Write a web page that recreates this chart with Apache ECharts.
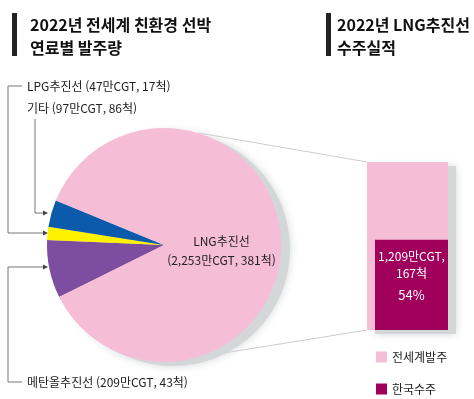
<!DOCTYPE html>
<html lang="ko">
<head>
<meta charset="UTF-8">
<script src="https://cdn.jsdelivr.net/npm/echarts@6/dist/echarts.min.js"></script>
<title>친환경 선박 발주량</title>
<style>
  html, body { margin: 0; padding: 0; background: #fff; }
  #chart { width: 474px; height: 399px; }
</style>
</head>
<body>
<div id="chart"></div>
<script>
// 연료별 발주량 (order = clockwise from the lower-left edge of the pie)
const fuelNames = ['메탄올추진선', 'LPG추진선', '기타', 'LNG추진선']
const fuelCGT = [209, 47, 97, 2253]      // 만CGT
const fuelShips = [43, 17, 86, 381]      // 척
const fuelColors = ['#7d4e9f', '#fff200', '#0b5aab', '#f6bdd6']

// LNG추진선 수주실적
const barNames = ['전세계발주', '한국수주']
const barCGT = [2253, 1209]              // 만CGT
const koreaShips = 167
const koreaShare = 54                    // %

const FONT = '"Noto Sans CJK KR", "Noto Sans", sans-serif'
const SHADOW = '#d3d7d7'
const fmt = v => v.toLocaleString('en-US')
const fuelLabel = i => fuelNames[i] + ' (' + fmt(fuelCGT[i]) + '만CGT, ' + fuelShips[i] + '척)'
const fuelTotal = fuelCGT.reduce((a, b) => a + b, 0)

// leader lines for the small slices (methanol, LPG, etc)
const leaders = [
  [[22, 382], [8, 382], [8, 267], [46, 267]],
  [[22, 86], [8, 86], [8, 233], [46, 233]],
  [[35, 119], [35, 213], [46, 213]]
]
const labelPos = [[27, 382], [27, 86], [27, 108]]

const graphic = [
  { type: 'rect', shape: { x: 12, y: 13, width: 5, height: 43 }, style: { fill: '#222' } },
  { type: 'rect', shape: { x: 326, y: 13, width: 5, height: 43 }, style: { fill: '#222' } },
  { type: 'line', z: -1, shape: { x1: 199, y1: 133, x2: 367, y2: 162 }, style: { stroke: '#ccc', lineWidth: 1 } },
  { type: 'line', z: -1, shape: { x1: 199, y1: 357, x2: 367, y2: 330 }, style: { stroke: '#ccc', lineWidth: 1 } }
]
leaders.forEach((pts, i) => {
  const tip = pts[pts.length - 1]
  graphic.push({ type: 'polyline', shape: { points: pts }, style: { stroke: '#777', lineWidth: 1, fill: null } })
  graphic.push({ type: 'polygon', shape: { points: [[tip[0] + 2, tip[1]], [tip[0] - 3, tip[1] - 2.5], [tip[0] - 3, tip[1] + 2.5]] }, style: { fill: '#444' } })
  graphic.push({
    type: 'text', x: labelPos[i][0], y: labelPos[i][1],
    style: { text: fuelLabel(i), font: '12px ' + FONT, fill: '#222', verticalAlign: 'middle' }
  })
})

const legendBase = {
  left: 376,
  padding: 0,
  icon: 'rect',
  itemWidth: 11, itemHeight: 11,
  selectedMode: false,
  textStyle: { fontFamily: FONT, fontSize: 12, color: '#222' }
}

const option = {
  animation: false,
  title: [
    {
      text: '2022년 전세계 친환경 선박\n연료별 발주량',
      left: 25, top: 8,
      textStyle: { fontFamily: FONT, fontSize: 16, fontWeight: 'bold', color: '#111', lineHeight: 23 }
    },
    {
      text: '2022년 LNG추진선\n수주실적',
      left: 332, top: 8,
      textStyle: { fontFamily: FONT, fontSize: 16, fontWeight: 'bold', color: '#111', lineHeight: 23 }
    }
  ],
  legend: [
    Object.assign({ data: [barNames[0]], top: 351 }, legendBase),
    Object.assign({ data: [barNames[1]], top: 383 }, legendBase)
  ],
  grid: [
    { left: 367, width: 81, top: 162, bottom: 69 },
    // shadow copy, shifted right/down
    { left: 375, width: 81, top: 166, bottom: 65 }
  ],
  xAxis: [
    { type: 'category', data: ['LNG'], show: false, gridIndex: 0 },
    { type: 'category', data: ['LNG'], show: false, gridIndex: 1 }
  ],
  yAxis: [
    { type: 'value', min: 0, max: barCGT[0], show: false, gridIndex: 0 },
    { type: 'value', min: 0, max: barCGT[0], show: false, gridIndex: 1 }
  ],
  graphic: graphic,
  series: [
    {
      // drop shadow of the pie
      type: 'pie',
      z: 1,
      center: [173, 249],
      radius: 117,
      silent: true,
      label: { show: false },
      itemStyle: { color: SHADOW, shadowBlur: 10, shadowColor: SHADOW },
      data: [fuelTotal]
    },
    {
      type: 'pie',
      center: [164, 245],
      radius: 117,
      startAngle: 206.4,
      clockwise: true,
      silent: true,
      label: {
        show: true,
        position: 'inside',
        fontFamily: FONT, fontSize: 12, color: '#222', lineHeight: 19,
        formatter: p => p.name + '\n(' + fmt(p.value) + '만CGT, ' + fuelShips[p.dataIndex] + '척)'
      },
      labelLayout: p => (p.dataIndex === 3 ? { dx: -4, dy: 8 } : {}),
      data: fuelNames.map((n, i) => ({
        name: n, value: fuelCGT[i],
        itemStyle: { color: fuelColors[i] },
        label: { show: i === 3 }
      }))
    },
    {
      // drop shadow of the bar
      type: 'bar',
      z: 1,
      xAxisIndex: 1, yAxisIndex: 1,
      barWidth: 81,
      silent: true,
      clip: false,
      itemStyle: { color: SHADOW, shadowBlur: 8, shadowColor: SHADOW },
      data: [barCGT[0]]
    },
    {
      name: barNames[0],
      type: 'bar',
      barWidth: 81,
      itemStyle: { color: '#f6bdd6' },
      data: [barCGT[0]]
    },
    {
      name: barNames[1],
      type: 'bar',
      barWidth: 73,
      barGap: '-90.12%',
      itemStyle: { color: '#a0005c' },
      label: {
        show: true,
        position: 'insideTop',
        distance: 8,
        formatter: () => '{a|' + fmt(barCGT[1]) + '만CGT,}\n{a|' + koreaShips + '척}\n{b|' + koreaShare + '%}',
        rich: {
          a: { fontFamily: FONT, fontSize: 12, color: '#fff', lineHeight: 17 },
          b: { fontFamily: FONT, fontSize: 13, color: '#fff', lineHeight: 26 }
        }
      },
      data: [barCGT[1]]
    }
  ]
}

const chart = echarts.init(document.getElementById('chart'))
chart.setOption(option)
</script>
</body>
</html>
